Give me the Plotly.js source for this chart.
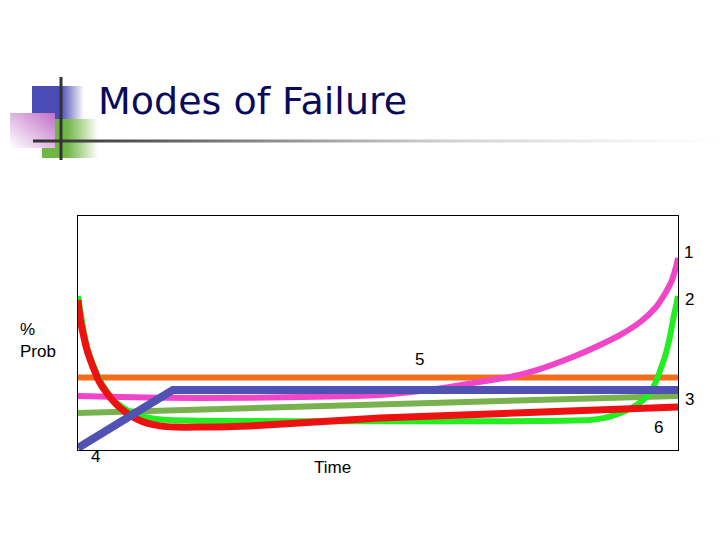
<!DOCTYPE html>
<html>
<head>
<meta charset="utf-8">
<script src="https://cdn.plot.ly/plotly-3.0.1.min.js"></script>
<style>html,body{margin:0;padding:0;background:#fff;}#chart{width:720px;height:540px;}</style>
</head>
<body>
<div id="chart"></div>
<script>
// Data (time 0-100, % prob 0-100)
var orangeX = [0, 100];
var orangeY = [31.0, 31.0];

var blueX = [0, 15.8, 100];
var blueY = [0.9, 25.6, 25.6];

var lightGreenX = [0, 100];
var lightGreenY = [15.8, 23.1];

var pinkX = [0, 7, 20.3, 37, 50.3, 57, 62, 67, 72, 77, 82, 87, 90.3, 93.7, 96.2, 97.8, 99, 99.7, 100];
var pinkY = [23.1, 22.6, 22.2, 22.6, 23.5, 25.2, 26.9, 29.1, 31.2, 34.6, 39.3, 44.9, 49.1, 54.7, 60.7, 66.7, 72.6, 78.6, 82.1];

var redX = [0, 0.33, 0.83, 1.5, 2.5, 3.67, 5.33, 6.67, 8.17, 9.83, 11.5, 13.7, 16.2, 20.3, 28.7, 50.3, 100];
var redY = [64.1, 56.4, 50, 42.7, 35.5, 28.6, 22.6, 18.8, 15.8, 13.2, 11.5, 10.3, 9.8, 9.8, 10.3, 13.7, 18.4];

var greenX = [0, 0.5, 1, 1.67, 2.67, 4, 5.67, 7.33, 9.5, 12, 15.3, 85.3, 87.8, 89.5, 91.2, 92.8, 94.2, 95.3, 96.3, 97, 97.7, 98.3, 98.8, 99.3, 99.7, 100];
var greenY = [65.8, 57.7, 50, 42.7, 35.5, 28.2, 22.2, 18.4, 15.4, 13.7, 12.8, 12.8, 13.7, 15, 16.7, 18.8, 21.4, 24.4, 29.1, 33.8, 38.9, 44.4, 50.4, 57.3, 62, 65.8];

var curveLabels = ["1", "2", "3", "4", "5", "6"];
var titleText = "Modes of Failure";
var xTitle = "Time";
var yTitle = "%<br>Prob";

function tr(x, y, color, width, shape) {
  return {x: x, y: y, type: 'scatter', mode: 'lines', hoverinfo: 'skip',
          line: {color: color, width: width, shape: shape || 'linear', smoothing: 0.6}};
}

var traces = [
  tr(orangeX, orangeY, '#f36c18', 6),
  tr(lightGreenX, lightGreenY, '#78b24e', 6),
  tr(greenX, greenY, '#22ee22', 6, 'spline'),
  tr(pinkX, pinkY, '#ef45c9', 6, 'spline'),
  tr(redX, redY, '#ee1111', 7, 'spline'),
  tr(blueX, blueY, '#4f52b3', 8)
];

var deco = '<svg xmlns="http://www.w3.org/2000/svg" width="720" height="540" viewBox="0 0 720 540" preserveAspectRatio="none">' +
  '<defs>' +
  '<linearGradient id="gb" x1="0" y1="0" x2="1" y2="0"><stop offset="0" stop-color="#4b4bb5"/><stop offset="0.55" stop-color="#4b4bb5"/><stop offset="1" stop-color="#4b4bb5" stop-opacity="0"/></linearGradient>' +
  '<linearGradient id="gg" x1="0" y1="0" x2="1" y2="0"><stop offset="0" stop-color="#6fb644"/><stop offset="0.45" stop-color="#6fb644"/><stop offset="1" stop-color="#6fb644" stop-opacity="0"/></linearGradient>' +
  '<linearGradient id="gp" x1="1" y1="0" x2="0" y2="1"><stop offset="0" stop-color="#c070c6"/><stop offset="1" stop-color="#ffffff"/></linearGradient>' +
  '<linearGradient id="gl" x1="0" y1="0" x2="1" y2="0"><stop offset="0" stop-color="#303030"/><stop offset="0.15" stop-color="#555555"/><stop offset="0.45" stop-color="#aaaaaa"/><stop offset="0.6" stop-color="#d0d0d0"/><stop offset="0.9" stop-color="#f6f6f6"/><stop offset="1" stop-color="#ffffff"/></linearGradient>' +
  '</defs>' +
  '<rect x="32" y="86" width="52" height="33" fill="url(#gb)"/>' +
  '<rect x="42" y="119" width="56" height="39" fill="url(#gg)"/>' +
  '<rect x="10" y="113" width="45" height="35" fill="url(#gp)"/>' +
  '<rect x="33" y="139.5" width="687" height="3" fill="url(#gl)"/>' +
  '<rect x="59.5" y="77" width="3" height="83" fill="#333333"/>' +
  '</svg>';
var decoUrl = 'data:image/svg+xml;charset=utf-8,' + encodeURIComponent(deco);

var L = 78, R = 42, T = 216, B = 90, PW = 600, PH = 234;
function px(xp) { return (xp - L) / PW; }
function py(yp) { return (540 - B - yp) / PH; }

var lf = {family: 'Liberation Sans, Arial, sans-serif', size: 17, color: '#000'};
function ann(text, xp, yp, xa) {
  return {text: text, xref: 'paper', yref: 'paper', x: px(xp), y: py(yp),
          xanchor: xa || 'center', yanchor: 'middle', showarrow: false, font: lf, align: 'left'};
}

var annotations = [
  ann(curveLabels[0], 688, 252),
  ann(curveLabels[1], 689, 299),
  ann(curveLabels[2], 689, 399),
  ann(curveLabels[3], 95, 456),
  ann(curveLabels[4], 419, 359),
  ann(curveLabels[5], 658, 427),
  ann(xTitle, 332, 467),
  ann(yTitle, 18, 340, 'left')
];

var layout = {
  width: 720, height: 540,
  margin: {l: L, r: R, t: T, b: B, pad: 0},
  paper_bgcolor: '#ffffff', plot_bgcolor: 'rgba(0,0,0,0)',
  showlegend: false,
  title: {text: titleText, xref: 'container', yref: 'container', x: 98/720, xanchor: 'left',
          y: 1 - 101/540, yanchor: 'middle',
          font: {family: 'DejaVu Sans, Verdana, sans-serif', size: 38, color: '#0a0a5c'}},
  xaxis: {range: [0, 100], showgrid: false, zeroline: false, showticklabels: false, ticks: '',
          showline: true, mirror: true, linecolor: '#000', linewidth: 1, fixedrange: true},
  yaxis: {range: [0, 100], showgrid: false, zeroline: false, showticklabels: false, ticks: '',
          showline: true, mirror: true, linecolor: '#000', linewidth: 1, fixedrange: true},
  images: [{source: decoUrl, xref: 'paper', yref: 'paper', x: -L / PW, y: (540 - B) / PH,
            sizex: 720 / PW, sizey: 540 / PH, sizing: 'stretch', xanchor: 'left', yanchor: 'top', layer: 'below'}],
  annotations: annotations
};

Plotly.newPlot('chart', traces, layout, {staticPlot: true, displayModeBar: false});
</script>
</body>
</html>
